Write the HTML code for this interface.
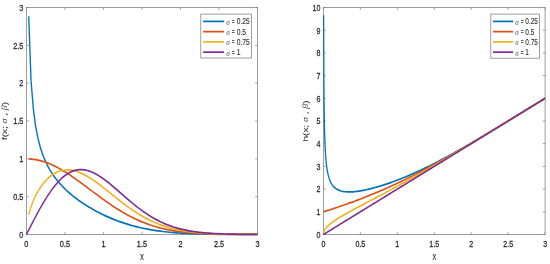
<!DOCTYPE html>
<html><head><meta charset="utf-8"><title>plot</title>
<style>
html,body{margin:0;padding:0;background:#fff}
svg text{font-family:"Liberation Sans",sans-serif;fill:#2a2a2a;stroke:#2a2a2a;stroke-width:0.28px}
.t{font-size:9.4px}
.l{font-size:8.6px;stroke-width:0.12px;fill:#303030}
.b{font-size:10px;stroke-width:0.1px;fill:#333}
.g{font-family:"Liberation Serif","DejaVu Serif",serif;font-style:italic;stroke:none;fill:#444}
</style></head><body>
<svg width="550" height="264" viewBox="0 0 550 264" style="display:block;filter:blur(0.3px)">
<rect width="550" height="264" fill="#fff"/>
<clipPath id="clipL"><rect x="24.9" y="6.5" width="234.1" height="229.2"/></clipPath>
<rect x="26.4" y="7.5" width="231.1" height="227.0" fill="none" stroke="#858585" stroke-width="0.8"/>
<text transform="translate(26.40 247.10) scale(0.78 1)" text-anchor="middle" class="t">0</text>
<text transform="translate(64.92 247.10) scale(0.78 1)" text-anchor="middle" class="t">0.5</text>
<text transform="translate(103.43 247.10) scale(0.78 1)" text-anchor="middle" class="t">1</text>
<text transform="translate(141.95 247.10) scale(0.78 1)" text-anchor="middle" class="t">1.5</text>
<text transform="translate(180.47 247.10) scale(0.78 1)" text-anchor="middle" class="t">2</text>
<text transform="translate(218.98 247.10) scale(0.78 1)" text-anchor="middle" class="t">2.5</text>
<text transform="translate(257.50 247.10) scale(0.78 1)" text-anchor="middle" class="t">3</text>
<text transform="translate(23.40 237.80) scale(0.78 1)" text-anchor="end" class="t">0</text>
<text transform="translate(23.40 199.97) scale(0.78 1)" text-anchor="end" class="t">0.5</text>
<text transform="translate(23.40 162.13) scale(0.78 1)" text-anchor="end" class="t">1</text>
<text transform="translate(23.40 124.30) scale(0.78 1)" text-anchor="end" class="t">1.5</text>
<text transform="translate(23.40 86.47) scale(0.78 1)" text-anchor="end" class="t">2</text>
<text transform="translate(23.40 48.63) scale(0.78 1)" text-anchor="end" class="t">2.5</text>
<text transform="translate(23.40 10.80) scale(0.78 1)" text-anchor="end" class="t">3</text>
<path d="M26.40 234.5v-2.3M26.40 7.5v2.3M64.92 234.5v-2.3M64.92 7.5v2.3M103.43 234.5v-2.3M103.43 7.5v2.3M141.95 234.5v-2.3M141.95 7.5v2.3M180.47 234.5v-2.3M180.47 7.5v2.3M218.98 234.5v-2.3M218.98 7.5v2.3M257.50 234.5v-2.3M257.50 7.5v2.3M26.4 234.50h2.3M257.5 234.50h-2.3M26.4 196.67h2.3M257.5 196.67h-2.3M26.4 158.83h2.3M257.5 158.83h-2.3M26.4 121.00h2.3M257.5 121.00h-2.3M26.4 83.17h2.3M257.5 83.17h-2.3M26.4 45.33h2.3M257.5 45.33h-2.3M26.4 7.50h2.3M257.5 7.50h-2.3" stroke="#858585" stroke-width="0.8" fill="none"/>
<text transform="translate(141.95 259.90) scale(0.78 1)" text-anchor="middle" class="b">x</text>
<text transform="translate(7.40 121.00) scale(0.78 1) rotate(-90)" text-anchor="middle" class="b">f(x; <tspan class="g">σ</tspan> , <tspan class="g">β</tspan>)</text>
<g clip-path="url(#clipL)"><g transform="scale(0.8 1)" fill="none" stroke-width="1.7" stroke-linejoin="round" stroke-linecap="butt">
<polyline points="35.89,16.19 38.78,80.39 41.67,109.03 44.55,126.26 47.44,138.18 50.33,147.12 53.22,154.19 56.11,160.01 59.00,164.94 61.89,169.22 64.78,173.00 67.66,176.38 70.55,179.45 73.44,182.27 76.33,184.87 79.22,187.29 82.11,189.57 85.00,191.71 87.89,193.73 90.78,195.66 93.66,197.49 96.55,199.24 99.44,200.91 102.33,202.52 105.22,204.06 108.11,205.55 111.00,206.98 113.89,208.35 116.77,209.67 119.66,210.95 122.55,212.18 125.44,213.36 128.33,214.50 131.22,215.59 134.11,216.65 137.00,217.66 139.88,218.64 142.77,219.57 145.66,220.47 148.55,221.33 151.44,222.15 154.33,222.93 157.22,223.68 160.10,224.40 162.99,225.08 165.88,225.73 168.77,226.34 171.66,226.92 174.55,227.48 177.44,228.00 180.33,228.49 183.22,228.95 186.10,229.39 188.99,229.80 191.88,230.18 194.77,230.54 197.66,230.88 200.55,231.19 203.44,231.48 206.32,231.75 209.21,232.00 212.10,232.23 214.99,232.45 217.88,232.64 220.77,232.83 223.66,232.99 226.55,233.14 229.44,233.28 232.32,233.41 235.21,233.53 238.10,233.63 240.99,233.73 243.88,233.81 246.77,233.89 249.66,233.96 252.54,234.02 255.43,234.08 258.32,234.13 261.21,234.17 264.10,234.21 266.99,234.25 269.88,234.28 272.77,234.31 275.65,234.33 278.54,234.36 281.43,234.37 284.32,234.39 287.21,234.41 290.10,234.42 292.99,234.43 295.88,234.44 298.76,234.45 301.65,234.46 304.54,234.46 307.43,234.47 310.32,234.47 313.21,234.48 316.10,234.48 318.99,234.48 321.88,234.49" stroke="#0072BD"/>
<polyline points="35.89,158.88 38.78,159.04 41.67,159.29 44.55,159.65 47.44,160.10 50.33,160.65 53.22,161.30 56.11,162.04 59.00,162.87 61.89,163.78 64.78,164.78 67.66,165.87 70.55,167.02 73.44,168.25 76.33,169.55 79.22,170.91 82.11,172.33 85.00,173.80 87.89,175.33 90.78,176.89 93.66,178.50 96.55,180.14 99.44,181.80 102.33,183.49 105.22,185.20 108.11,186.92 111.00,188.65 113.89,190.38 116.77,192.12 119.66,193.84 122.55,195.55 125.44,197.25 128.33,198.93 131.22,200.59 134.11,202.22 137.00,203.82 139.88,205.39 142.77,206.92 145.66,208.42 148.55,209.87 151.44,211.28 154.33,212.65 157.22,213.97 160.10,215.24 162.99,216.47 165.88,217.65 168.77,218.77 171.66,219.85 174.55,220.87 177.44,221.85 180.33,222.78 183.22,223.66 186.10,224.49 188.99,225.27 191.88,226.01 194.77,226.71 197.66,227.36 200.55,227.96 203.44,228.53 206.32,229.06 209.21,229.55 212.10,230.00 214.99,230.42 217.88,230.81 220.77,231.17 223.66,231.50 226.55,231.80 229.44,232.08 232.32,232.33 235.21,232.56 238.10,232.77 240.99,232.95 243.88,233.13 246.77,233.28 249.66,233.42 252.54,233.54 255.43,233.66 258.32,233.76 261.21,233.85 264.10,233.93 266.99,234.00 269.88,234.06 272.77,234.12 275.65,234.17 278.54,234.21 281.43,234.25 284.32,234.28 287.21,234.31 290.10,234.34 292.99,234.36 295.88,234.38 298.76,234.40 301.65,234.41 304.54,234.42 307.43,234.44 310.32,234.45 313.21,234.45 316.10,234.46 318.99,234.47 321.88,234.47" stroke="#DC5016"/>
<polyline points="35.89,214.86 38.78,206.79 41.67,200.69 44.55,195.67 47.44,191.40 50.33,187.69 53.22,184.46 56.11,181.63 59.00,179.17 61.89,177.05 64.78,175.23 67.66,173.71 70.55,172.47 73.44,171.48 76.33,170.75 79.22,170.26 82.11,169.99 85.00,169.93 87.89,170.08 90.78,170.43 93.66,170.95 96.55,171.64 99.44,172.49 102.33,173.48 105.22,174.61 108.11,175.86 111.00,177.22 113.89,178.68 116.77,180.23 119.66,181.85 122.55,183.54 125.44,185.28 128.33,187.07 131.22,188.89 134.11,190.73 137.00,192.58 139.88,194.44 142.77,196.30 145.66,198.15 148.55,199.97 151.44,201.78 154.33,203.55 157.22,205.28 160.10,206.97 162.99,208.62 165.88,210.22 168.77,211.76 171.66,213.25 174.55,214.68 177.44,216.05 180.33,217.36 183.22,218.61 186.10,219.79 188.99,220.92 191.88,221.98 194.77,222.99 197.66,223.93 200.55,224.82 203.44,225.64 206.32,226.42 209.21,227.14 212.10,227.81 214.99,228.43 217.88,229.00 220.77,229.53 223.66,230.02 226.55,230.47 229.44,230.88 232.32,231.25 235.21,231.59 238.10,231.90 240.99,232.19 243.88,232.44 246.77,232.67 249.66,232.88 252.54,233.07 255.43,233.24 258.32,233.39 261.21,233.52 264.10,233.64 266.99,233.75 269.88,233.84 272.77,233.93 275.65,234.00 278.54,234.07 281.43,234.12 284.32,234.17 287.21,234.22 290.10,234.26 292.99,234.29 295.88,234.32 298.76,234.35 301.65,234.37 304.54,234.39 307.43,234.40 310.32,234.42 313.21,234.43 316.10,234.44 318.99,234.45 321.88,234.46" stroke="#EFB11E"/>
<polyline points="33.00,234.50 35.89,229.96 38.78,225.45 41.67,220.99 44.55,216.60 47.44,212.31 50.33,208.13 53.22,204.09 56.11,200.21 59.00,196.51 61.89,193.01 64.78,189.71 67.66,186.64 70.55,183.81 73.44,181.22 76.33,178.88 79.22,176.81 82.11,175.00 85.00,173.45 87.89,172.17 90.78,171.15 93.66,170.39 96.55,169.89 99.44,169.63 102.33,169.62 105.22,169.83 108.11,170.26 111.00,170.90 113.89,171.73 116.77,172.74 119.66,173.91 122.55,175.24 125.44,176.70 128.33,178.28 131.22,179.96 134.11,181.74 137.00,183.59 139.88,185.50 142.77,187.46 145.66,189.46 148.55,191.47 151.44,193.50 154.33,195.52 157.22,197.53 160.10,199.52 162.99,201.48 165.88,203.40 168.77,205.28 171.66,207.10 174.55,208.87 177.44,210.57 180.33,212.22 183.22,213.79 186.10,215.30 188.99,216.73 191.88,218.09 194.77,219.38 197.66,220.60 200.55,221.75 203.44,222.82 206.32,223.83 209.21,224.77 212.10,225.65 214.99,226.46 217.88,227.22 220.77,227.91 223.66,228.56 226.55,229.15 229.44,229.69 232.32,230.18 235.21,230.64 238.10,231.05 240.99,231.42 243.88,231.76 246.77,232.07 249.66,232.34 252.54,232.59 255.43,232.82 258.32,233.02 261.21,233.20 264.10,233.36 266.99,233.50 269.88,233.62 272.77,233.74 275.65,233.83 278.54,233.92 281.43,234.00 284.32,234.07 287.21,234.12 290.10,234.18 292.99,234.22 295.88,234.26 298.76,234.29 301.65,234.32 304.54,234.35 307.43,234.37 310.32,234.39 313.21,234.41 316.10,234.42 318.99,234.43 321.88,234.44" stroke="#7E2C92"/>
</g></g>
<rect x="200.8" y="14.1" width="50.7" height="43.9" fill="#fff" stroke="#858585" stroke-width="0.8"/>
<line x1="203.10" x2="224.10" y1="21.40" y2="21.40" stroke="#0072BD" stroke-width="1.7"/>
<text transform="translate(226.30 24.90) scale(0.78 1)" text-anchor="start" class="l"><tspan class="g" style="font-size:9.2px">σ</tspan></text>
<text transform="translate(231.80 23.80) scale(0.576 1)" text-anchor="start" class="l">=</text>
<text transform="translate(236.70 24.40) scale(0.78 1)" text-anchor="start" class="l">0.25</text>
<line x1="203.10" x2="224.10" y1="31.65" y2="31.65" stroke="#DC5016" stroke-width="1.7"/>
<text transform="translate(226.30 35.15) scale(0.78 1)" text-anchor="start" class="l"><tspan class="g" style="font-size:9.2px">σ</tspan></text>
<text transform="translate(231.80 34.05) scale(0.576 1)" text-anchor="start" class="l">=</text>
<text transform="translate(236.70 34.65) scale(0.78 1)" text-anchor="start" class="l">0.5</text>
<line x1="203.10" x2="224.10" y1="41.90" y2="41.90" stroke="#EFB11E" stroke-width="1.7"/>
<text transform="translate(226.30 45.40) scale(0.78 1)" text-anchor="start" class="l"><tspan class="g" style="font-size:9.2px">σ</tspan></text>
<text transform="translate(231.80 44.30) scale(0.576 1)" text-anchor="start" class="l">=</text>
<text transform="translate(236.70 44.90) scale(0.78 1)" text-anchor="start" class="l">0.75</text>
<line x1="203.10" x2="224.10" y1="52.15" y2="52.15" stroke="#7E2C92" stroke-width="1.7"/>
<text transform="translate(226.30 55.65) scale(0.78 1)" text-anchor="start" class="l"><tspan class="g" style="font-size:9.2px">σ</tspan></text>
<text transform="translate(231.80 54.55) scale(0.576 1)" text-anchor="start" class="l">=</text>
<text transform="translate(236.70 55.15) scale(0.78 1)" text-anchor="start" class="l">1</text>
<clipPath id="clipR"><rect x="321.9" y="6.5" width="224.70000000000005" height="229.2"/></clipPath>
<rect x="323.4" y="7.5" width="221.70000000000005" height="227.0" fill="none" stroke="#858585" stroke-width="0.8"/>
<text transform="translate(323.40 247.10) scale(0.75075 1)" text-anchor="middle" class="t">0</text>
<text transform="translate(360.35 247.10) scale(0.75075 1)" text-anchor="middle" class="t">0.5</text>
<text transform="translate(397.30 247.10) scale(0.75075 1)" text-anchor="middle" class="t">1</text>
<text transform="translate(434.25 247.10) scale(0.75075 1)" text-anchor="middle" class="t">1.5</text>
<text transform="translate(471.20 247.10) scale(0.75075 1)" text-anchor="middle" class="t">2</text>
<text transform="translate(508.15 247.10) scale(0.75075 1)" text-anchor="middle" class="t">2.5</text>
<text transform="translate(545.10 247.10) scale(0.75075 1)" text-anchor="middle" class="t">3</text>
<text transform="translate(320.40 237.80) scale(0.75075 1)" text-anchor="end" class="t">0</text>
<text transform="translate(320.40 215.10) scale(0.75075 1)" text-anchor="end" class="t">1</text>
<text transform="translate(320.40 192.40) scale(0.75075 1)" text-anchor="end" class="t">2</text>
<text transform="translate(320.40 169.70) scale(0.75075 1)" text-anchor="end" class="t">3</text>
<text transform="translate(320.40 147.00) scale(0.75075 1)" text-anchor="end" class="t">4</text>
<text transform="translate(320.40 124.30) scale(0.75075 1)" text-anchor="end" class="t">5</text>
<text transform="translate(320.40 101.60) scale(0.75075 1)" text-anchor="end" class="t">6</text>
<text transform="translate(320.40 78.90) scale(0.75075 1)" text-anchor="end" class="t">7</text>
<text transform="translate(320.40 56.20) scale(0.75075 1)" text-anchor="end" class="t">8</text>
<text transform="translate(320.40 33.50) scale(0.75075 1)" text-anchor="end" class="t">9</text>
<text transform="translate(320.40 10.80) scale(0.75075 1)" text-anchor="end" class="t">10</text>
<path d="M323.40 234.5v-2.3M323.40 7.5v2.3M360.35 234.5v-2.3M360.35 7.5v2.3M397.30 234.5v-2.3M397.30 7.5v2.3M434.25 234.5v-2.3M434.25 7.5v2.3M471.20 234.5v-2.3M471.20 7.5v2.3M508.15 234.5v-2.3M508.15 7.5v2.3M545.10 234.5v-2.3M545.10 7.5v2.3M323.4 234.50h2.3M545.1 234.50h-2.3M323.4 211.80h2.3M545.1 211.80h-2.3M323.4 189.10h2.3M545.1 189.10h-2.3M323.4 166.40h2.3M545.1 166.40h-2.3M323.4 143.70h2.3M545.1 143.70h-2.3M323.4 121.00h2.3M545.1 121.00h-2.3M323.4 98.30h2.3M545.1 98.30h-2.3M323.4 75.60h2.3M545.1 75.60h-2.3M323.4 52.90h2.3M545.1 52.90h-2.3M323.4 30.20h2.3M545.1 30.20h-2.3M323.4 7.50h2.3M545.1 7.50h-2.3" stroke="#858585" stroke-width="0.8" fill="none"/>
<text transform="translate(434.25 259.90) scale(0.75075 1)" text-anchor="middle" class="b">x</text>
<text transform="translate(308.00 121.00) scale(0.75075 1) rotate(-90)" text-anchor="middle" class="b">h(x; <tspan class="g">σ</tspan> , <tspan class="g">β</tspan>)</text>
<g clip-path="url(#clipR)"><g transform="scale(0.77 1)" fill="none" stroke-width="1.7" stroke-linejoin="round" stroke-linecap="butt">
<polyline points="420.29,15.27 420.58,75.67 420.86,102.33 421.15,118.15 421.44,128.91 421.73,136.81 422.02,142.93 422.30,147.84 422.59,151.88 422.88,155.29 423.17,158.21 423.46,160.74 423.74,162.96 424.03,164.92 424.32,166.68 424.61,168.26 424.89,169.69 425.18,170.99 425.47,172.19 425.76,173.28 426.05,174.29 426.33,175.22 426.62,176.08 426.91,176.89 427.20,177.64 427.49,178.34 427.77,179.00 428.06,179.62 428.35,180.20 428.64,180.75 428.93,181.27 429.21,181.75 429.50,182.22 429.79,182.66 430.08,183.07 430.37,183.47 430.65,183.84 430.94,184.20 431.23,184.54 431.52,184.87 431.80,185.18 432.09,185.47 432.38,185.76 432.67,186.03 432.96,186.28 433.24,186.53 433.53,186.77 433.82,187.00 434.11,187.21 434.40,187.42 434.68,187.62 434.97,187.81 435.26,188.00 435.55,188.18 435.84,188.35 436.12,188.51 436.41,188.67 436.70,188.82 436.99,188.96 437.28,189.10 437.56,189.24 437.85,189.36 438.14,189.49 438.43,189.61 438.71,189.72 439.00,189.83 439.19,189.90 441.11,190.52 443.03,190.99 444.95,191.34 446.87,191.60 448.79,191.77 450.71,191.88 452.63,191.93 454.55,191.93 456.47,191.88 458.39,191.79 460.31,191.67 462.23,191.51 464.15,191.33 466.07,191.12 467.99,190.89 469.91,190.63 471.83,190.36 473.75,190.06 475.66,189.75 477.58,189.42 479.50,189.07 481.42,188.71 483.34,188.33 485.26,187.94 487.18,187.54 489.10,187.12 491.02,186.69 492.94,186.25 494.86,185.80 496.78,185.34 498.70,184.86 500.62,184.38 502.54,183.88 504.46,183.37 506.38,182.86 508.30,182.33 510.22,181.80 512.14,181.25 514.05,180.70 515.97,180.14 517.89,179.56 519.81,178.98 521.73,178.39 523.65,177.79 525.57,177.19 527.49,176.57 529.41,175.95 531.33,175.32 533.25,174.68 535.17,174.03 537.09,173.38 539.01,172.72 540.93,172.05 542.85,171.37 544.77,170.68 546.69,169.99 548.61,169.29 550.52,168.59 552.44,167.88 554.36,167.16 556.28,166.43 558.20,165.70 560.12,164.96 562.04,164.21 563.96,163.46 565.88,162.70 567.80,161.94 569.72,161.17 571.64,160.40 573.56,159.62 575.48,158.83 577.40,158.04 579.32,157.24 581.24,156.44 583.16,155.64 585.08,154.83 586.99,154.01 588.91,153.19 590.83,152.37 592.75,151.54 594.67,150.71 596.59,149.87 598.51,149.03 600.43,148.19 602.35,147.35 604.27,146.50 606.19,145.64 608.11,144.79 610.03,143.93 611.95,143.07 613.87,142.20 615.79,141.34 617.71,140.47 619.63,139.60 621.55,138.72 623.46,137.85 625.38,136.97 627.30,136.09 629.22,135.21 631.14,134.32 633.06,133.44 634.98,132.55 636.90,131.66 638.82,130.77 640.74,129.88 642.66,128.99 644.58,128.10 646.50,127.20 648.42,126.31 650.34,125.41 652.26,124.51 654.18,123.62 656.10,122.72 658.02,121.82 659.94,120.92 661.85,120.02 663.77,119.12 665.69,118.21 667.61,117.31 669.53,116.41 671.45,115.51 673.37,114.60 675.29,113.70 677.21,112.79 679.13,111.89 681.05,110.98 682.97,110.08 684.89,109.17 686.81,108.27 688.73,107.36 690.65,106.46 692.57,105.55 694.49,104.64 696.41,103.74 698.32,102.83 700.24,101.92 702.16,101.02 704.08,100.11 706.00,99.20 707.92,98.29" stroke="#0072BD"/>
<polyline points="420.29,211.73 420.58,211.66 420.86,211.60 421.15,211.53 421.44,211.46 421.73,211.39 422.02,211.32 422.30,211.25 422.59,211.18 422.88,211.11 423.17,211.04 423.46,210.98 423.74,210.91 424.03,210.84 424.32,210.77 424.61,210.70 424.89,210.63 425.18,210.56 425.47,210.49 425.76,210.42 426.05,210.35 426.33,210.28 426.62,210.21 426.91,210.14 427.20,210.07 427.49,209.99 427.77,209.92 428.06,209.85 428.35,209.78 428.64,209.71 428.93,209.64 429.21,209.57 429.50,209.50 429.79,209.43 430.08,209.35 430.37,209.28 430.65,209.21 430.94,209.14 431.23,209.07 431.52,208.99 431.80,208.92 432.09,208.85 432.38,208.78 432.67,208.70 432.96,208.63 433.24,208.56 433.53,208.49 433.82,208.41 434.11,208.34 434.40,208.27 434.68,208.19 434.97,208.12 435.26,208.05 435.55,207.97 435.84,207.90 436.12,207.83 436.41,207.75 436.70,207.68 436.99,207.60 437.28,207.53 437.56,207.46 437.85,207.38 438.14,207.31 438.43,207.23 438.71,207.16 439.00,207.08 439.19,207.03 441.11,206.53 443.03,206.02 444.95,205.51 446.87,205.00 448.79,204.48 450.71,203.95 452.63,203.42 454.55,202.89 456.47,202.35 458.39,201.81 460.31,201.26 462.23,200.70 464.15,200.15 466.07,199.58 467.99,199.02 469.91,198.45 471.83,197.87 473.75,197.29 475.66,196.70 477.58,196.11 479.50,195.51 481.42,194.91 483.34,194.31 485.26,193.70 487.18,193.08 489.10,192.46 491.02,191.83 492.94,191.20 494.86,190.57 496.78,189.93 498.70,189.28 500.62,188.63 502.54,187.98 504.46,187.32 506.38,186.65 508.30,185.98 510.22,185.30 512.14,184.62 514.05,183.94 515.97,183.25 517.89,182.55 519.81,181.85 521.73,181.15 523.65,180.44 525.57,179.72 527.49,179.00 529.41,178.28 531.33,177.55 533.25,176.82 535.17,176.08 537.09,175.33 539.01,174.58 540.93,173.83 542.85,173.07 544.77,172.31 546.69,171.54 548.61,170.77 550.52,170.00 552.44,169.22 554.36,168.43 556.28,167.65 558.20,166.85 560.12,166.06 562.04,165.25 563.96,164.45 565.88,163.64 567.80,162.83 569.72,162.01 571.64,161.19 573.56,160.37 575.48,159.54 577.40,158.71 579.32,157.88 581.24,157.04 583.16,156.20 585.08,155.36 586.99,154.51 588.91,153.66 590.83,152.81 592.75,151.96 594.67,151.10 596.59,150.24 598.51,149.38 600.43,148.51 602.35,147.64 604.27,146.78 606.19,145.90 608.11,145.03 610.03,144.16 611.95,143.28 613.87,142.40 615.79,141.52 617.71,140.64 619.63,139.75 621.55,138.87 623.46,137.98 625.38,137.09 627.30,136.20 629.22,135.31 631.14,134.42 633.06,133.53 634.98,132.63 636.90,131.74 638.82,130.84 640.74,129.95 642.66,129.05 644.58,128.15 646.50,127.25 648.42,126.35 650.34,125.45 652.26,124.55 654.18,123.65 656.10,122.75 658.02,121.85 659.94,120.95 661.85,120.04 663.77,119.14 665.69,118.23 667.61,117.33 669.53,116.43 671.45,115.52 673.37,114.62 675.29,113.71 677.21,112.80 679.13,111.90 681.05,110.99 682.97,110.09 684.89,109.18 686.81,108.27 688.73,107.37 690.65,106.46 692.57,105.55 694.49,104.65 696.41,103.74 698.32,102.83 700.24,101.93 702.16,101.02 704.08,100.11 706.00,99.20 707.92,98.30" stroke="#DC5016"/>
<polyline points="420.29,232.63 420.58,231.86 420.86,231.27 421.15,230.77 421.44,230.32 421.73,229.92 422.02,229.55 422.30,229.21 422.59,228.88 422.88,228.58 423.17,228.28 423.46,228.00 423.74,227.73 424.03,227.47 424.32,227.22 424.61,226.98 424.89,226.74 425.18,226.51 425.47,226.28 425.76,226.06 426.05,225.85 426.33,225.64 426.62,225.43 426.91,225.23 427.20,225.03 427.49,224.83 427.77,224.64 428.06,224.45 428.35,224.26 428.64,224.08 428.93,223.89 429.21,223.72 429.50,223.54 429.79,223.36 430.08,223.19 430.37,223.02 430.65,222.85 430.94,222.68 431.23,222.51 431.52,222.35 431.80,222.19 432.09,222.03 432.38,221.87 432.67,221.71 432.96,221.55 433.24,221.39 433.53,221.24 433.82,221.08 434.11,220.93 434.40,220.78 434.68,220.63 434.97,220.48 435.26,220.33 435.55,220.18 435.84,220.03 436.12,219.89 436.41,219.74 436.70,219.60 436.99,219.45 437.28,219.31 437.56,219.17 437.85,219.03 438.14,218.89 438.43,218.75 438.71,218.61 439.00,218.47 439.19,218.38 441.11,217.47 443.03,216.58 444.95,215.71 446.87,214.85 448.79,214.01 450.71,213.18 452.63,212.35 454.55,211.54 456.47,210.73 458.39,209.92 460.31,209.12 462.23,208.33 464.15,207.54 466.07,206.75 467.99,205.96 469.91,205.18 471.83,204.39 473.75,203.61 475.66,202.83 477.58,202.05 479.50,201.26 481.42,200.48 483.34,199.70 485.26,198.92 487.18,198.14 489.10,197.35 491.02,196.57 492.94,195.78 494.86,194.99 496.78,194.21 498.70,193.42 500.62,192.63 502.54,191.83 504.46,191.04 506.38,190.24 508.30,189.45 510.22,188.65 512.14,187.85 514.05,187.04 515.97,186.24 517.89,185.43 519.81,184.62 521.73,183.81 523.65,183.00 525.57,182.18 527.49,181.36 529.41,180.54 531.33,179.72 533.25,178.90 535.17,178.07 537.09,177.24 539.01,176.41 540.93,175.58 542.85,174.75 544.77,173.91 546.69,173.07 548.61,172.23 550.52,171.39 552.44,170.54 554.36,169.70 556.28,168.85 558.20,167.99 560.12,167.14 562.04,166.29 563.96,165.43 565.88,164.57 567.80,163.71 569.72,162.85 571.64,161.98 573.56,161.12 575.48,160.25 577.40,159.38 579.32,158.51 581.24,157.64 583.16,156.76 585.08,155.89 586.99,155.01 588.91,154.13 590.83,153.25 592.75,152.37 594.67,151.49 596.59,150.60 598.51,149.72 600.43,148.83 602.35,147.94 604.27,147.05 606.19,146.16 608.11,145.27 610.03,144.38 611.95,143.49 613.87,142.60 615.79,141.70 617.71,140.81 619.63,139.91 621.55,139.01 623.46,138.12 625.38,137.22 627.30,136.32 629.22,135.42 631.14,134.52 633.06,133.62 634.98,132.72 636.90,131.82 638.82,130.92 640.74,130.01 642.66,129.11 644.58,128.21 646.50,127.30 648.42,126.40 650.34,125.50 652.26,124.59 654.18,123.69 656.10,122.78 658.02,121.88 659.94,120.97 661.85,120.07 663.77,119.16 665.69,118.26 667.61,117.35 669.53,116.44 671.45,115.54 673.37,114.63 675.29,113.72 677.21,112.82 679.13,111.91 681.05,111.00 682.97,110.10 684.89,109.19 686.81,108.28 688.73,107.37 690.65,106.47 692.57,105.56 694.49,104.65 696.41,103.74 698.32,102.84 700.24,101.93 702.16,101.02 704.08,100.11 706.00,99.21 707.92,98.30" stroke="#EFB11E"/>
<polyline points="420.00,234.50 420.29,234.36 420.58,234.23 420.86,234.09 421.15,233.96 421.44,233.82 421.73,233.68 422.02,233.55 422.30,233.41 422.59,233.27 422.88,233.14 423.17,233.00 423.46,232.87 423.74,232.73 424.03,232.59 424.32,232.46 424.61,232.32 424.89,232.18 425.18,232.05 425.47,231.91 425.76,231.78 426.05,231.64 426.33,231.50 426.62,231.37 426.91,231.23 427.20,231.09 427.49,230.96 427.77,230.82 428.06,230.69 428.35,230.55 428.64,230.41 428.93,230.28 429.21,230.14 429.50,230.01 429.79,229.87 430.08,229.73 430.37,229.60 430.65,229.46 430.94,229.32 431.23,229.19 431.52,229.05 431.80,228.92 432.09,228.78 432.38,228.64 432.67,228.51 432.96,228.37 433.24,228.23 433.53,228.10 433.82,227.96 434.11,227.83 434.40,227.69 434.68,227.55 434.97,227.42 435.26,227.28 435.55,227.15 435.84,227.01 436.12,226.87 436.41,226.74 436.70,226.60 436.99,226.46 437.28,226.33 437.56,226.19 437.85,226.06 438.14,225.92 438.43,225.78 438.71,225.65 439.00,225.51 439.19,225.42 441.11,224.51 443.03,223.60 444.95,222.70 446.87,221.79 448.79,220.88 450.71,219.97 452.63,219.06 454.55,218.16 456.47,217.25 458.39,216.34 460.31,215.43 462.23,214.52 464.15,213.62 466.07,212.71 467.99,211.80 469.91,210.89 471.83,209.98 473.75,209.08 475.66,208.17 477.58,207.26 479.50,206.35 481.42,205.44 483.34,204.54 485.26,203.63 487.18,202.72 489.10,201.81 491.02,200.90 492.94,200.00 494.86,199.09 496.78,198.18 498.70,197.27 500.62,196.36 502.54,195.46 504.46,194.55 506.38,193.64 508.30,192.73 510.22,191.82 512.14,190.92 514.05,190.01 515.97,189.10 517.89,188.19 519.81,187.28 521.73,186.38 523.65,185.47 525.57,184.56 527.49,183.65 529.41,182.74 531.33,181.84 533.25,180.93 535.17,180.02 537.09,179.11 539.01,178.20 540.93,177.30 542.85,176.39 544.77,175.48 546.69,174.57 548.61,173.66 550.52,172.76 552.44,171.85 554.36,170.94 556.28,170.03 558.20,169.12 560.12,168.22 562.04,167.31 563.96,166.40 565.88,165.49 567.80,164.58 569.72,163.68 571.64,162.77 573.56,161.86 575.48,160.95 577.40,160.04 579.32,159.14 581.24,158.23 583.16,157.32 585.08,156.41 586.99,155.50 588.91,154.60 590.83,153.69 592.75,152.78 594.67,151.87 596.59,150.96 598.51,150.06 600.43,149.15 602.35,148.24 604.27,147.33 606.19,146.42 608.11,145.52 610.03,144.61 611.95,143.70 613.87,142.79 615.79,141.88 617.71,140.98 619.63,140.07 621.55,139.16 623.46,138.25 625.38,137.34 627.30,136.44 629.22,135.53 631.14,134.62 633.06,133.71 634.98,132.80 636.90,131.90 638.82,130.99 640.74,130.08 642.66,129.17 644.58,128.26 646.50,127.36 648.42,126.45 650.34,125.54 652.26,124.63 654.18,123.72 656.10,122.82 658.02,121.91 659.94,121.00 661.85,120.09 663.77,119.18 665.69,118.28 667.61,117.37 669.53,116.46 671.45,115.55 673.37,114.64 675.29,113.74 677.21,112.83 679.13,111.92 681.05,111.01 682.97,110.10 684.89,109.20 686.81,108.29 688.73,107.38 690.65,106.47 692.57,105.56 694.49,104.66 696.41,103.75 698.32,102.84 700.24,101.93 702.16,101.02 704.08,100.12 706.00,99.21 707.92,98.30" stroke="#7E2C92"/>
</g></g>
<rect x="490.8" y="14.1" width="48.7" height="44.1" fill="#fff" stroke="#858585" stroke-width="0.8"/>
<line x1="493.01" x2="513.23" y1="21.40" y2="21.40" stroke="#0072BD" stroke-width="1.7"/>
<text transform="translate(515.34 24.90) scale(0.75075 1)" text-anchor="start" class="l"><tspan class="g" style="font-size:9.2px">σ</tspan></text>
<text transform="translate(520.64 23.80) scale(0.5544 1)" text-anchor="start" class="l">=</text>
<text transform="translate(525.35 24.40) scale(0.75075 1)" text-anchor="start" class="l">0.25</text>
<line x1="493.01" x2="513.23" y1="31.65" y2="31.65" stroke="#DC5016" stroke-width="1.7"/>
<text transform="translate(515.34 35.15) scale(0.75075 1)" text-anchor="start" class="l"><tspan class="g" style="font-size:9.2px">σ</tspan></text>
<text transform="translate(520.64 34.05) scale(0.5544 1)" text-anchor="start" class="l">=</text>
<text transform="translate(525.35 34.65) scale(0.75075 1)" text-anchor="start" class="l">0.5</text>
<line x1="493.01" x2="513.23" y1="41.90" y2="41.90" stroke="#EFB11E" stroke-width="1.7"/>
<text transform="translate(515.34 45.40) scale(0.75075 1)" text-anchor="start" class="l"><tspan class="g" style="font-size:9.2px">σ</tspan></text>
<text transform="translate(520.64 44.30) scale(0.5544 1)" text-anchor="start" class="l">=</text>
<text transform="translate(525.35 44.90) scale(0.75075 1)" text-anchor="start" class="l">0.75</text>
<line x1="493.01" x2="513.23" y1="52.15" y2="52.15" stroke="#7E2C92" stroke-width="1.7"/>
<text transform="translate(515.34 55.65) scale(0.75075 1)" text-anchor="start" class="l"><tspan class="g" style="font-size:9.2px">σ</tspan></text>
<text transform="translate(520.64 54.55) scale(0.5544 1)" text-anchor="start" class="l">=</text>
<text transform="translate(525.35 55.15) scale(0.75075 1)" text-anchor="start" class="l">1</text>
</svg>
</body></html>
